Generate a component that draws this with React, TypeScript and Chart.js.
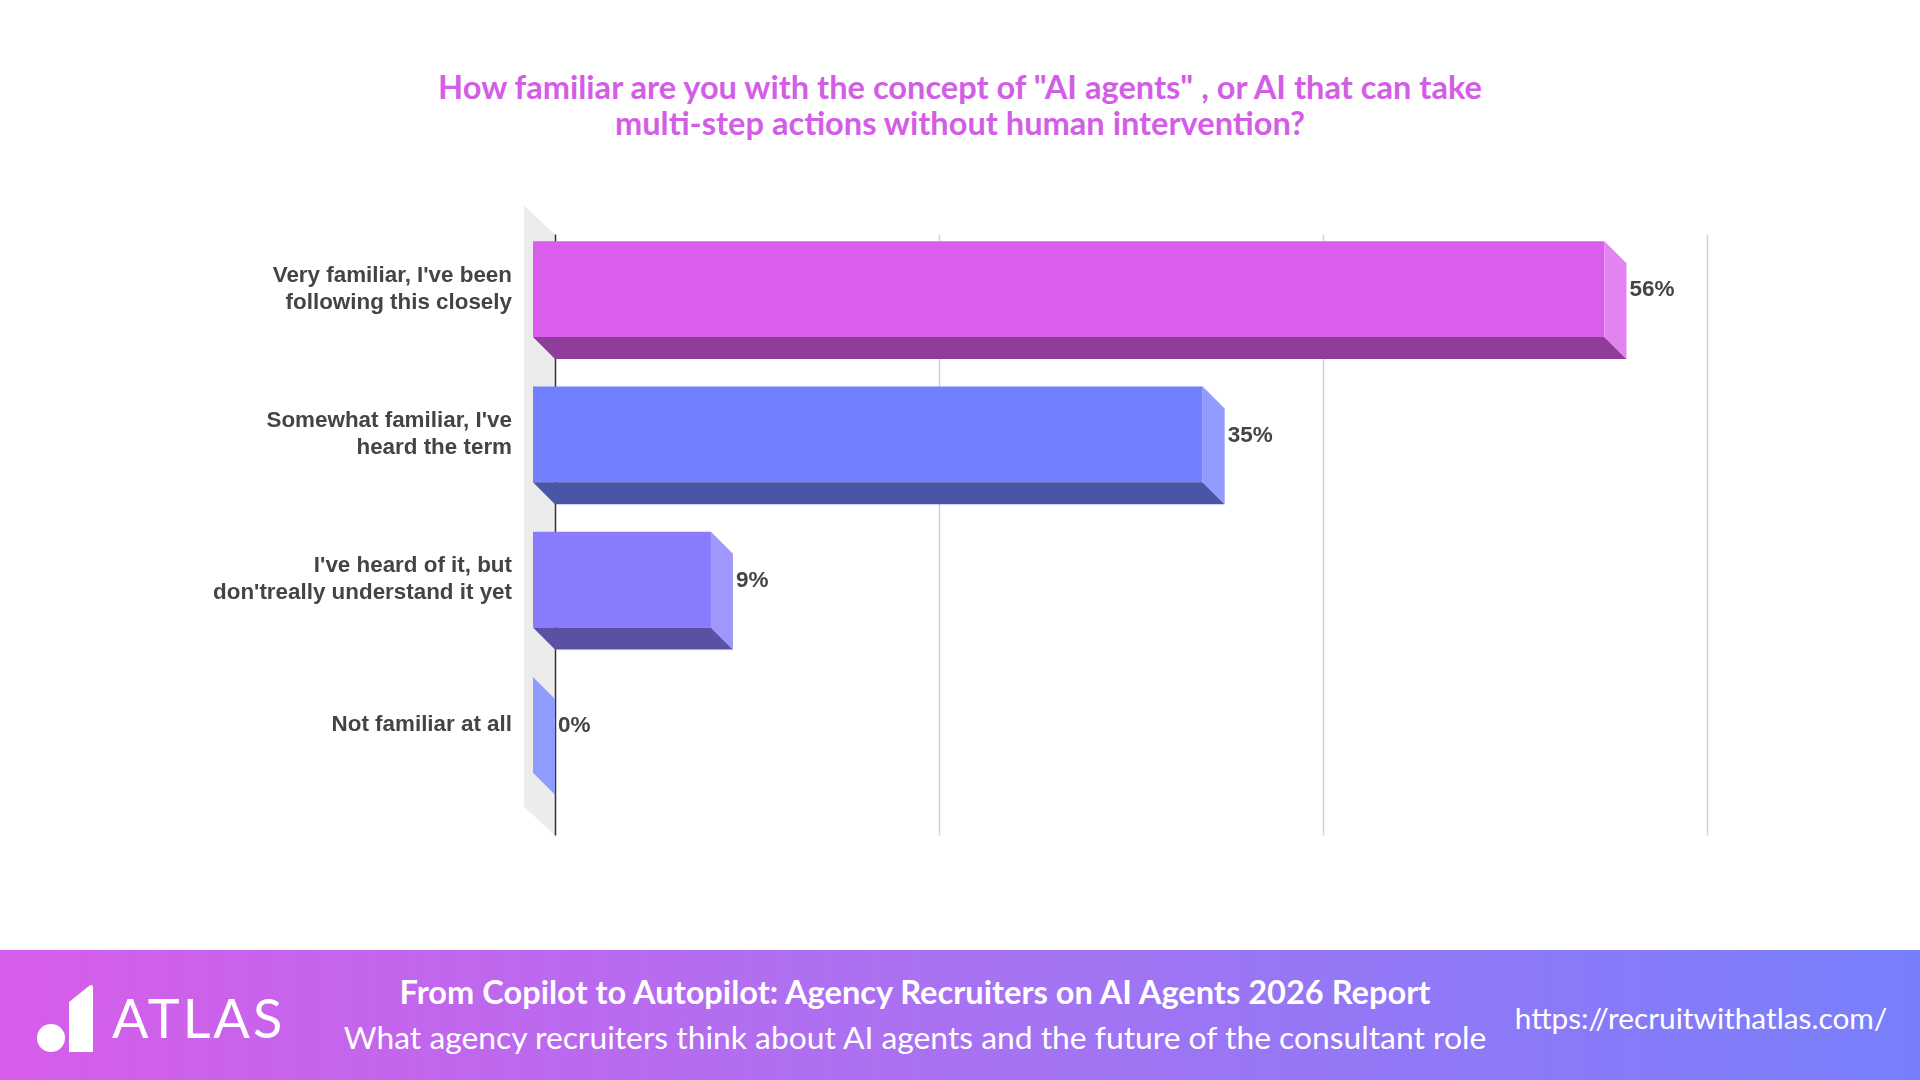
import React, { useEffect, useRef } from 'react';
import { Chart, registerables } from 'chart.js';

Chart.register(...registerables);

const titleLines = [
  'How familiar are you with the concept of "AI agents" , or AI that can take',
  'multi-step actions without human intervention?',
];
const categories: string[][] = [
  ["Very familiar, I've been", 'following this closely'],
  ["Somewhat familiar, I've", 'heard the term'],
  ["I've heard of it, but", "don'treally understand it yet"],
  ['Not familiar at all'],
];
const values = [56, 35, 9.3, 0];
const valueLabels = ['56%', '35%', '9%', '0%'];
const xTicks = [0, 20, 40, 60];
const frontColors = ['#d85eeb', '#7280ff', '#897cfc', '#8c9bff'];
const bottomColors = ['#8e3e99', '#4a55a6', '#5a50a4', '#5c66b0'];
const sideColors = ['#e283f1', '#929cff', '#a097fc', '#8e9cff'];
const footerTitle = 'From Copilot to Autopilot: Agency Recruiters on AI Agents 2026 Report';
const footerSubtitle = 'What agency recruiters think about AI agents and the future of the consultant role';
const footerUrl = 'https://recruitwithatlas.com/';
const brand = 'ATLAS';

const DX = 22;
const DY = 22;

const threeD = {
  id: 'threeD',
  beforeDatasetsDraw(chart: any) {
    const { ctx, chartArea, scales } = chart;
    const x = scales.x;
    const top = chartArea.top + 18;
    const bottom = chartArea.bottom + 38;
    const x0 = x.getPixelForValue(0);
    ctx.save();
    ctx.fillStyle = '#ececec';
    ctx.beginPath();
    ctx.moveTo(x0 - 9, top - 29);
    ctx.lineTo(x0 + DX, top);
    ctx.lineTo(x0 + DX, bottom);
    ctx.lineTo(x0 - 9, bottom - 29);
    ctx.closePath();
    ctx.fill();
    ctx.lineWidth = 1.5;
    ctx.strokeStyle = '#d2d2d2';
    xTicks.slice(1).forEach((v) => {
      const px = Math.round(x.getPixelForValue(v) + DX + v * 0.06) + 0.5;
      ctx.beginPath();
      ctx.moveTo(px, top);
      ctx.lineTo(px, bottom);
      ctx.stroke();
    });
    ctx.strokeStyle = '#333333';
    const ax = Math.round(x0 + DX) + 0.5;
    ctx.beginPath();
    ctx.moveTo(ax, top);
    ctx.lineTo(ax, bottom);
    ctx.stroke();
    ctx.restore();
  },
  afterDatasetsDraw(chart: any) {
    const { ctx } = chart;
    const meta = chart.getDatasetMeta(0);
    ctx.save();
    meta.data.forEach((el: any, i: number) => {
      const { x: xe, y, base, height } = el.getProps(['x', 'y', 'base', 'height'], true);
      const t = y - height / 2;
      const b = y + height / 2;
      ctx.fillStyle = bottomColors[i];
      ctx.beginPath();
      ctx.moveTo(base, b);
      ctx.lineTo(xe, b);
      ctx.lineTo(xe + DX, b + DY);
      ctx.lineTo(base + DX, b + DY);
      ctx.closePath();
      ctx.fill();
      ctx.fillStyle = sideColors[i];
      ctx.beginPath();
      ctx.moveTo(xe, t);
      ctx.lineTo(xe + DX, t + DY);
      ctx.lineTo(xe + DX, b + DY);
      ctx.lineTo(xe, b);
      ctx.closePath();
      ctx.fill();
      ctx.fillStyle = '#444444';
      ctx.font = 'bold 22.5px "Liberation Sans", Arial, sans-serif';
      ctx.textAlign = 'left';
      ctx.textBaseline = 'middle';
      ctx.fillText(valueLabels[i], xe + DX + 3, y + 1);
    });
    ctx.restore();
  },
};

export default function App() {
  const ref = useRef<HTMLCanvasElement>(null);
  useEffect(() => {
    if (!ref.current) return;
    const chart = new Chart(ref.current, {
      type: 'bar',
      data: {
        labels: categories,
        datasets: [
          {
            data: values,
            backgroundColor: frontColors,
            borderWidth: 0,
            barPercentage: 0.66,
            categoryPercentage: 1,
          },
        ],
      },
      options: {
        indexAxis: 'y',
        responsive: false,
        animation: false,
        layout: { padding: { left: 0, right: 239, top: 216.5, bottom: 152.5 } },
        plugins: { legend: { display: false }, tooltip: { enabled: false } },
        scales: {
          x: { min: 0, max: 60, display: false },
          y: {
            afterFit(s: any) {
              s.width = 533;
            },
            grid: { display: false, drawTicks: false },
            border: { display: false },
            ticks: {
              padding: 21,
              color: '#444444',
              font: { family: '"Liberation Sans", Arial, sans-serif', weight: 'bold', size: 22.4, lineHeight: 1.22 },
            },
          },
        },
      },
      plugins: [threeD as any],
    });
    return () => chart.destroy();
  }, []);

  const font = 'Lato, "Noto Sans", sans-serif';
  return (
    <div style={{ position: 'absolute', left: 0, top: 0, width: 1920, height: 1080, background: '#ffffff', overflow: 'hidden' }}>
      <div
        style={{
          position: 'absolute', left: 0, top: 69, width: 1920, textAlign: 'center',
          fontFamily: font, fontWeight: 700, fontSize: 32.6, lineHeight: '36px', color: '#d35ee6',
        }}
      >
        {titleLines[0]}
        <br />
        {titleLines[1]}
      </div>
      <canvas ref={ref} width={1920} height={950} style={{ position: 'absolute', left: 0, top: 0, width: 1920, height: 950 }} />
      <div
        style={{
          position: 'absolute', left: 0, top: 950, width: 1920, height: 130,
          background: 'linear-gradient(90deg, #d65de9 0%, #a872f2 50%, #787ffb 100%)',
        }}
      >
        <svg width={110} height={130} style={{ position: 'absolute', left: 0, top: 0 }}>
          <circle cx={51} cy={88} r={14} fill="#ffffff" />
          <path d="M69,52 L89,36 Q93,33 93,38 L93,102 L69,102 Z" fill="#ffffff" />
        </svg>
        <div style={{ position: 'absolute', left: 112, top: 38, lineHeight: '60px', fontFamily: font, fontWeight: 400, fontSize: 54, letterSpacing: 3, color: '#ffffff' }}>
          {brand}
        </div>
        <div style={{ position: 'absolute', left: 215, width: 1400, top: 24, lineHeight: '36px', textAlign: 'center', fontFamily: font, fontWeight: 700, fontSize: 32.6, color: '#ffffff' }}>
          {footerTitle}
        </div>
        <div style={{ position: 'absolute', left: 215, width: 1400, top: 69, lineHeight: '36px', textAlign: 'center', fontFamily: font, fontWeight: 400, fontSize: 31.8, color: '#ffffff' }}>
          {footerSubtitle}
        </div>
        <div style={{ position: 'absolute', left: 1501, width: 400, top: 50, lineHeight: '36px', textAlign: 'center', fontFamily: font, fontWeight: 400, fontSize: 29.8, color: '#ffffff' }}>
          {footerUrl}
        </div>
      </div>
    </div>
  );
}
